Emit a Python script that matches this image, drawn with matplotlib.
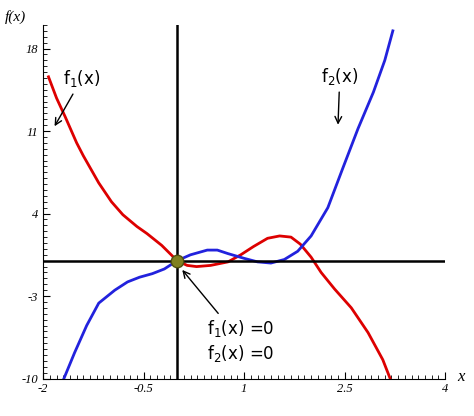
import matplotlib
matplotlib.use("Agg")
import matplotlib.pyplot as plt
from matplotlib.ticker import MultipleLocator

f1_x = [-1.92, -1.8, -1.67, -1.5, -1.4, -1.17, -0.98, -0.81, -0.6, -0.45, -0.23, 0.0, 0.15, 0.29, 0.5, 0.76, 0.95, 1.14, 1.35, 1.53, 1.7, 1.84, 2.0, 2.15, 2.35, 2.6, 2.85, 3.07, 3.18]
f1_y = [15.6, 13.8, 12.2, 10.0, 8.9, 6.6, 5.0, 3.9, 2.9, 2.3, 1.3, 0.0, -0.4, -0.5, -0.4, -0.1, 0.5, 1.2, 1.9, 2.1, 2.0, 1.4, 0.3, -1.0, -2.4, -4.0, -6.1, -8.4, -10.0]
f2_x = [-1.69, -1.53, -1.35, -1.17, -0.93, -0.74, -0.56, -0.37, -0.19, 0.0, 0.2, 0.45, 0.6, 0.76, 1.0, 1.2, 1.4, 1.6, 1.8, 2.0, 2.25, 2.47, 2.7, 2.93, 3.1, 3.22]
f2_y = [-10.0, -7.8, -5.5, -3.6, -2.5, -1.8, -1.4, -1.1, -0.7, 0.0, 0.5, 0.9, 0.9, 0.6, 0.2, -0.1, -0.2, 0.1, 0.8, 2.1, 4.5, 7.8, 11.2, 14.3, 17.0, 19.5]
xticks = [-2, -0.5, 1, 2.5, 4]
yticks = [-10, -3, 4, 11, 18]

fig = plt.figure(figsize=(4.74, 4.16), dpi=100)
ax = fig.add_axes([0.091, 0.09, 0.848, 0.85])
ax.set_xlim(-2, 4)
ax.set_ylim(-10, 20)
ax.plot(f1_x, f1_y, color="#dd0000", lw=2)
ax.plot(f2_x, f2_y, color="#2222dd", lw=2)
ax.axvline(0, color="black", lw=1.8)
ax.axhline(0, color="black", lw=1.8)
ax.plot([0], [0], "o", color="#808020", ms=9, mec="#505010")
for s in ["top", "right"]:
    ax.spines[s].set_visible(False)
ax.set_xticks(xticks)
ax.set_yticks(yticks)
ax.xaxis.set_minor_locator(MultipleLocator(0.1))
ax.yaxis.set_minor_locator(MultipleLocator(0.5))
ax.set_xticklabels([str(t) for t in xticks], family="Liberation Serif", style="italic", fontsize=9)
ax.set_yticklabels([str(t) for t in yticks], family="Liberation Serif", style="italic", fontsize=9)
ax.tick_params(which="major", direction="in", length=5)
ax.tick_params(which="minor", direction="in", length=3)
fig.text(0.01, 0.975, "f(x)", family="Liberation Serif", style="italic", fontsize=11, va="top")
fig.text(0.965, 0.085, "x", family="Liberation Serif", style="italic", fontsize=12)
ap = dict(arrowstyle="->", color="black", lw=1)
ax.annotate("f$_1$(x)", xy=(-1.85, 11.2), xytext=(-1.7, 15), fontsize=12, arrowprops=ap)
ax.annotate("f$_2$(x)", xy=(2.4, 11.3), xytext=(2.15, 15.2), fontsize=12, arrowprops=ap)
ax.annotate("f$_1$(x) =0\nf$_2$(x) =0", xy=(0.05, -0.6), xytext=(0.45, -8.3), fontsize=12, arrowprops=ap)
fig.savefig("out.png", dpi=100)
